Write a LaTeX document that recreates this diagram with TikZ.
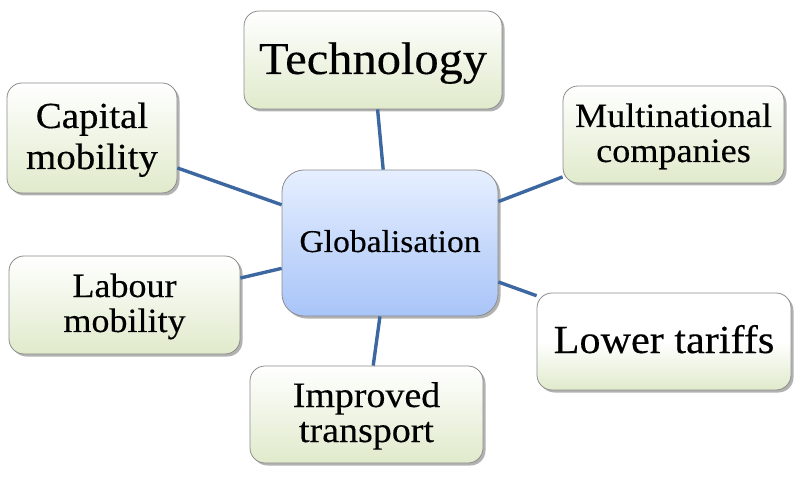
\documentclass[tikz,border=0pt]{standalone}
\usepackage{fontspec}
\setmainfont{Liberation Serif}[FakeStretch=1.06, FakeBold=0.3]
\usetikzlibrary{shadows}
\definecolor{edgegray}{HTML}{8C8C8C}
\definecolor{greenbot}{HTML}{E0EACB}
\definecolor{bluetop}{HTML}{E6EFFF}
\definecolor{bluebot}{HTML}{A8C4F8}
\definecolor{linkblue}{HTML}{3D67A0}
\tikzset{
  leaf/.style={draw=edgegray, line width=0.8pt, rounded corners=15pt,
    top color=white, bottom color=greenbot, inner sep=0pt,
    drop shadow={shadow xshift=2.5pt, shadow yshift=-2.5pt, fill=black, opacity=0.3}},
  hub/.style={draw=edgegray, line width=0.8pt, rounded corners=22pt,
    top color=bluetop, bottom color=bluebot, inner sep=0pt,
    drop shadow={shadow xshift=2.5pt, shadow yshift=-2.5pt, fill=black, opacity=0.3}},
  link/.style={draw=linkblue, line width=3.4pt}
}
% #1 = first baseline offset below centre, #2 = size, #3 = line spacing, #4 = text
\newcommand{\lbl}[4]{\raisebox{-#1pt}[0pt][0pt]{\fontsize{#2}{#3}\selectfont\begin{tabular}[t]{@{}c@{}}#4\end{tabular}}}
\begin{document}
\begin{tikzpicture}[x=1pt,y=-1pt]
\useasboundingbox (0,0) rectangle (800,486);
\node[hub, minimum width=216pt, minimum height=146pt] (glob) at (390,243) {\lbl{9}{31.7}{36}{Globalisation}};
\node[leaf, minimum width=258pt, minimum height=98pt] (tech) at (373,60) {\lbl{14}{45.7}{50}{Technology}};
\node[leaf, minimum width=170pt, minimum height=110pt] (cap) at (92,138) {\lbl{-10}{36.7}{41}{Capital\\mobility}};
\node[leaf, minimum width=221pt, minimum height=97pt] (multi) at (673.5,134.5) {\lbl{-7.5}{34.1}{35}{Multinational\\companies}};
\node[leaf, minimum width=231pt, minimum height=98pt] (lab) at (124.5,305) {\lbl{-8}{34}{35}{Labour\\mobility}};
\node[leaf, minimum width=254pt, minimum height=97pt, middle color=white] (low) at (664,341.5) {\lbl{11.5}{39.8}{44}{Lower tariffs}};
\node[leaf, minimum width=233pt, minimum height=97pt] (imp) at (366.5,414.5) {\lbl{-7.5}{35.8}{35}{Improved\\transport}};
\draw[link] (glob) -- (tech);
\draw[link] (glob) -- (cap);
\draw[link] (glob) -- (multi);
\draw[link] (glob) -- (lab);
\draw[link] (glob) -- (low);
\draw[link] (glob) -- (imp);
\end{tikzpicture}
\end{document}
